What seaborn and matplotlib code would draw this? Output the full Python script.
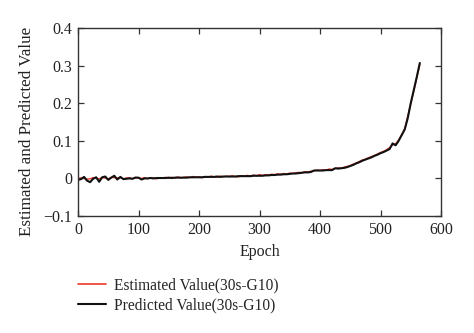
import numpy as np
import pandas as pd
import matplotlib
matplotlib.use("Agg")
import matplotlib.pyplot as plt
import seaborn as sns
from matplotlib.lines import Line2D

epochs = list(range(0, 570, 5))

predicted = [
    -0.004, -0.002, 0.004, -0.006, -0.010, -0.001, 0.003, -0.009, 0.003, 0.005,
    -0.004, 0.002, 0.007, -0.003, 0.004, -0.002, -0.001, 0.000, -0.001, 0.002,
    0.002, -0.003, 0.000, 0.000, 0.001, 0.000, 0.001, 0.001, 0.001, 0.001,
    0.002, 0.001, 0.002, 0.002, 0.002, 0.002, 0.002, 0.003, 0.003, 0.003,
    0.003, 0.003, 0.004, 0.004, 0.004, 0.004, 0.005, 0.004, 0.005, 0.005,
    0.005, 0.005, 0.005, 0.006, 0.006, 0.006, 0.006, 0.006, 0.007, 0.007,
    0.007, 0.007, 0.008, 0.008, 0.009, 0.009, 0.010, 0.010, 0.011, 0.011,
    0.012, 0.013, 0.013, 0.014, 0.015, 0.016, 0.016, 0.017, 0.021, 0.021,
    0.021, 0.021, 0.022, 0.022, 0.022, 0.027, 0.026, 0.027, 0.028, 0.030,
    0.033, 0.036, 0.040, 0.043, 0.047, 0.050, 0.053, 0.056, 0.060, 0.063,
    0.067, 0.070, 0.074, 0.078, 0.093, 0.088, 0.100, 0.115, 0.130, 0.160,
    0.200, 0.235, 0.270, 0.307,
]

estimated = [
    0.000, 0.001, 0.000, -0.002, -0.001, 0.002, 0.000, -0.001, 0.002, 0.001,
    -0.001, 0.003, 0.002, 0.001, 0.002, -0.001, 0.001, 0.002, -0.001, 0.003,
    0.001, 0.000, 0.002, -0.001, 0.002, 0.001, -0.001, 0.002, 0.001, 0.003,
    0.000, 0.003, 0.001, 0.004, 0.001, 0.003, 0.004, 0.002, 0.005, 0.003,
    0.004, 0.002, 0.005, 0.003, 0.006, 0.004, 0.003, 0.006, 0.004, 0.006,
    0.005, 0.007, 0.005, 0.004, 0.007, 0.006, 0.008, 0.006, 0.009, 0.007,
    0.010, 0.008, 0.010, 0.009, 0.011, 0.010, 0.012, 0.011, 0.013, 0.012,
    0.014, 0.013, 0.015, 0.016, 0.015, 0.018, 0.017, 0.019, 0.020, 0.022,
    0.021, 0.023, 0.022, 0.025, 0.024, 0.026, 0.028, 0.027, 0.030, 0.032,
    0.034, 0.038, 0.041, 0.045, 0.049, 0.051, 0.055, 0.058, 0.061, 0.065,
    0.069, 0.072, 0.076, 0.082, 0.089, 0.092, 0.102, 0.116, 0.132, 0.165,
    0.198, 0.232, 0.268, 0.303,
]

series_names = ["Estimated Value(30s-G10)", "Predicted Value(30s-G10)"]
x_ticks = [0, 100, 200, 300, 400, 500, 600]
y_ticks = [-0.1, 0, 0.1, 0.2, 0.3, 0.4]
y_tick_labels = ["\u22120.1", "0", "0.1", "0.2", "0.3", "0.4"]

df = pd.DataFrame({
    "Epoch": epochs * 2,
    "Value": estimated + predicted,
    "Series": [series_names[0]] * len(epochs) + [series_names[1]] * len(epochs),
})

sns.set_style("ticks")
plt.rcParams["font.family"] = ["Liberation Serif", "DejaVu Serif"]
plt.rcParams["font.size"] = 11

fig = plt.figure(figsize=(4.74, 3.33), dpi=100)
ax = fig.add_axes([78 / 474, 1 - 216 / 333, (441 - 78) / 474, (216 - 28) / 333])

sns.lineplot(data=df, x="Epoch", y="Value", hue="Series",
             palette={series_names[0]: "#ee3a2a", series_names[1]: "#111111"},
             linewidth=1.2, ax=ax, legend=False)
for ln, lw in zip(ax.lines, [1.0, 1.5]):
    ln.set_linewidth(lw)

ax.set_xlim(0, 600)
ax.set_ylim(-0.1, 0.4)
ax.set_xticks(x_ticks)
ax.set_yticks(y_ticks)
ax.set_yticklabels(y_tick_labels)
ax.tick_params(direction="in", top=True, right=True, length=4, width=0.9,
               labelsize=11.5, colors="#333333", labelcolor="#222222", pad=4)
for s in ax.spines.values():
    s.set_linewidth(1.0)
    s.set_color("#333333")
ax.set_xlabel("Epoch", fontsize=11.5, color="#222222", labelpad=5)
ax.set_ylabel("Estimated and Predicted Value", fontsize=12.3, color="#222222")
ax.yaxis.set_label_coords(-0.118, 0.452)

handles = [Line2D([], [], color="#ee3a2a", lw=1.2), Line2D([], [], color="#111111", lw=1.5)]
fig.legend(handles, series_names, loc="upper left",
           bbox_to_anchor=(72 / 474, 1 - 271 / 333), frameon=False,
           fontsize=11.2, handlelength=1.8, handletextpad=0.5, labelspacing=0.25,
           borderaxespad=0)

fig.savefig("out.png", dpi=100)
